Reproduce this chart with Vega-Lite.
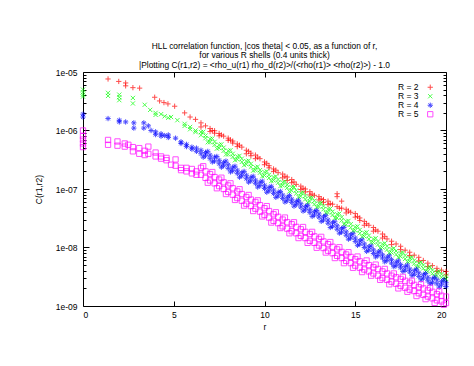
{
"$schema": "https://vega.github.io/schema/vega-lite/v6.json",
"autosize": {"type": "none"},
"padding": {"left": 83, "top": 72, "right": 28, "bottom": 60},
"width": 363, "height": 234,
"background": "white",
"config": {"view": {"stroke": "#000", "strokeWidth": 1}, "font": "Liberation Sans"},
"title": {"text": ["HLL correlation function, |cos theta| < 0.05, as a function of r,", "for various R shells (0.4 units thick)", "|Plotting C(r1,r2) = <rho_u(r1) rho_d(r2)>/(<rho(r1)> <rho(r2)>) - 1.0"], "fontSize": 8.4, "fontWeight": "normal", "font": "Liberation Sans", "lineHeight": 9.5, "offset": 2, "dy": 3, "anchor": "middle", "color": "#000"},
"data": {"values": [
{"r":1.38,"s":2,"c":7.6e-6},{"r":1.97,"s":2,"c":6.9e-6},{"r":2.35,"s":2,"c":6.5e-6},{"r":2.35,"s":2,"c":5.8e-6},{"r":2.75,"s":2,"c":5.4e-6},{"r":3.12,"s":2,"c":5.3e-6},{"r":3.95,"s":2,"c":3.7e-6},{"r":4.22,"s":2,"c":3.2e-6},{"r":4.46,"s":2,"c":3.0e-6},{"r":4.68,"s":2,"c":2.85e-6},{"r":5.05,"s":2,"c":2.6e-6},{"r":5.6,"s":2,"c":2.0e-6},{"r":5.9,"s":2,"c":1.7e-6},{"r":6.2,"s":2,"c":1.55e-6},
{"r":6.5,"s":2,"c":1.35e-6},{"r":6.5,"s":2,"c":1.15e-6},{"r":6.75,"s":2,"c":1.2e-6},{"r":7.0,"s":2,"c":1.08e-6},{"r":7.0,"s":2,"c":9.6e-7},{"r":7.25,"s":2,"c":9.9e-7},{"r":7.25,"s":2,"c":9.0e-7},{"r":7.5,"s":2,"c":8.9e-7},{"r":7.5,"s":2,"c":8.1e-7},{"r":7.75,"s":2,"c":8.0e-7},{"r":8.0,"s":2,"c":7.4e-7},{"r":8.0,"s":2,"c":6.8e-7},{"r":8.25,"s":2,"c":6.6e-7},{"r":8.25,"s":2,"c":6.1e-7},{"r":8.5,"s":2,"c":5.9e-7},{"r":8.5,"s":2,"c":5.3e-7},{"r":8.75,"s":2,"c":5.2e-7},{"r":9.0,"s":2,"c":4.6e-7},{"r":9.0,"s":2,"c":4.0e-7},{"r":9.25,"s":2,"c":4.1e-7},{"r":9.25,"s":2,"c":3.7e-7},{"r":9.5,"s":2,"c":3.8e-7},{"r":9.5,"s":2,"c":3.3e-7},{"r":9.75,"s":2,"c":3.3e-7},{"r":10.0,"s":2,"c":2.9e-7},{"r":10.0,"s":2,"c":2.6e-7},{"r":10.25,"s":2,"c":2.5e-7},{"r":10.25,"s":2,"c":2.3e-7},{"r":10.5,"s":2,"c":2.2e-7},{"r":10.5,"s":2,"c":2.0e-7},{"r":10.75,"s":2,"c":1.9e-7},{"r":11.0,"s":2,"c":1.8e-7},{"r":11.0,"s":2,"c":1.55e-7},{"r":11.25,"s":2,"c":1.6e-7},{"r":11.25,"s":2,"c":1.4e-7},{"r":11.5,"s":2,"c":1.45e-7},{"r":11.5,"s":2,"c":1.28e-7},{"r":11.75,"s":2,"c":1.2e-7},{"r":12.0,"s":2,"c":1.12e-7},{"r":12.0,"s":2,"c":9.8e-8},{"r":12.25,"s":2,"c":1.0e-7},{"r":12.25,"s":2,"c":8.9e-8},{"r":12.5,"s":2,"c":9.0e-8},{"r":12.5,"s":2,"c":7.9e-8},{"r":12.75,"s":2,"c":7.8e-8},{"r":13.0,"s":2,"c":7.4e-8},{"r":13.0,"s":2,"c":6.5e-8},{"r":13.25,"s":2,"c":6.6e-8},{"r":13.25,"s":2,"c":5.9e-8},{"r":13.5,"s":2,"c":6.2e-8},{"r":13.5,"s":2,"c":5.4e-8},{"r":13.75,"s":2,"c":5.5e-8},{"r":14.0,"s":2,"c":8.3e-8},{"r":14.0,"s":2,"c":7.4e-8},{"r":14.0,"s":2,"c":5.0e-8},{"r":14.25,"s":2,"c":4.7e-8},{"r":14.25,"s":2,"c":6.2e-8},{"r":14.5,"s":2,"c":4.5e-8},{"r":14.5,"s":2,"c":3.9e-8},{"r":14.75,"s":2,"c":4.0e-8},{"r":15.0,"s":2,"c":3.8e-8},{"r":15.0,"s":2,"c":3.3e-8},{"r":15.25,"s":2,"c":3.2e-8},{"r":15.25,"s":2,"c":2.9e-8},{"r":15.5,"s":2,"c":2.8e-8},{"r":15.5,"s":2,"c":2.4e-8},{"r":15.75,"s":2,"c":2.4e-8},{"r":16.0,"s":2,"c":2.2e-8},{"r":16.0,"s":2,"c":1.9e-8},{"r":16.25,"s":2,"c":1.9e-8},{"r":16.5,"s":2,"c":1.7e-8},{"r":16.5,"s":2,"c":1.45e-8},{"r":16.75,"s":2,"c":1.4e-8},{"r":17.0,"s":2,"c":1.28e-8},{"r":17.0,"s":2,"c":1.12e-8},{"r":17.25,"s":2,"c":1.15e-8},{"r":17.5,"s":2,"c":1.05e-8},{"r":17.5,"s":2,"c":9.2e-9},{"r":17.75,"s":2,"c":9.0e-9},{"r":18.0,"s":2,"c":8.3e-9},{"r":18.0,"s":2,"c":7.3e-9},{"r":18.25,"s":2,"c":7.4e-9},{"r":18.5,"s":2,"c":6.8e-9},{"r":18.5,"s":2,"c":5.9e-9},{"r":18.75,"s":2,"c":6.0e-9},{"r":19.0,"s":2,"c":5.4e-9},{"r":19.0,"s":2,"c":4.7e-9},{"r":19.25,"s":2,"c":4.9e-9},{"r":19.5,"s":2,"c":4.4e-9},{"r":19.5,"s":2,"c":3.9e-9},{"r":19.75,"s":2,"c":4.1e-9},{"r":20.0,"s":2,"c":3.9e-9},{"r":20.0,"s":2,"c":3.4e-9},
{"r":7.125,"s":2,"c":1.0e-6},{"r":7.625,"s":2,"c":8.4e-7},{"r":8.125,"s":2,"c":6.9e-7},{"r":8.625,"s":2,"c":5.6e-7},{"r":9.125,"s":2,"c":4.4e-7},{"r":9.625,"s":2,"c":3.5e-7},{"r":10.125,"s":2,"c":2.75e-7},{"r":10.625,"s":2,"c":2.1e-7},{"r":11.125,"s":2,"c":1.65e-7},{"r":11.625,"s":2,"c":1.32e-7},{"r":12.125,"s":2,"c":1.03e-7},{"r":12.625,"s":2,"c":8.2e-8},{"r":13.125,"s":2,"c":6.8e-8},{"r":13.625,"s":2,"c":5.6e-8},{"r":14.125,"s":2,"c":4.7e-8},{"r":14.625,"s":2,"c":4.2e-8},{"r":15.125,"s":2,"c":3.4e-8},{"r":15.625,"s":2,"c":2.55e-8},{"r":16.125,"s":2,"c":2.0e-8},{"r":16.625,"s":2,"c":1.55e-8},
{"r":0,"s":3,"c":5.0e-6},{"r":0,"s":3,"c":4.5e-6},{"r":0,"s":3,"c":4.1e-6},{"r":0,"s":3,"c":3.8e-6},{"r":1.38,"s":3,"c":4.4e-6},{"r":1.38,"s":3,"c":3.9e-6},{"r":2.0,"s":3,"c":4.1e-6},{"r":2.0,"s":3,"c":3.7e-6},{"r":2.0,"s":3,"c":3.3e-6},{"r":2.75,"s":3,"c":3.6e-6},{"r":2.75,"s":3,"c":2.9e-6},{"r":3.4,"s":3,"c":2.75e-6},{"r":3.7,"s":3,"c":2.25e-6},{"r":4.0,"s":3,"c":2.0e-6},{"r":4.0,"s":3,"c":1.85e-6},{"r":4.3,"s":3,"c":1.9e-6},{"r":4.5,"s":3,"c":1.75e-6},{"r":4.7,"s":3,"c":1.65e-6},{"r":4.85,"s":3,"c":1.7e-6},{"r":5.2,"s":3,"c":1.5e-6},{"r":5.6,"s":3,"c":1.3e-6},{"r":5.6,"s":3,"c":1.2e-6},{"r":5.9,"s":3,"c":1.15e-6},{"r":5.9,"s":3,"c":1.05e-6},{"r":6.2,"s":3,"c":1.0e-6},{"r":6.2,"s":3,"c":9.4e-7},
{"r":6.5,"s":3,"c":9.4e-7},{"r":6.5,"s":3,"c":8.3e-7},{"r":6.75,"s":3,"c":8.2e-7},{"r":6.75,"s":3,"c":7.4e-7},{"r":7.0,"s":3,"c":7.2e-7},{"r":7.0,"s":3,"c":6.3e-7},{"r":7.25,"s":3,"c":6.4e-7},{"r":7.25,"s":3,"c":5.7e-7},{"r":7.5,"s":3,"c":5.7e-7},{"r":7.5,"s":3,"c":5.0e-7},{"r":7.75,"s":3,"c":5.1e-7},{"r":7.75,"s":3,"c":4.5e-7},{"r":8.0,"s":3,"c":4.5e-7},{"r":8.0,"s":3,"c":3.9e-7},{"r":8.25,"s":3,"c":4.0e-7},{"r":8.25,"s":3,"c":3.55e-7},{"r":8.5,"s":3,"c":3.6e-7},{"r":8.5,"s":3,"c":3.2e-7},{"r":8.75,"s":3,"c":3.3e-7},{"r":8.75,"s":3,"c":2.9e-7},{"r":9.0,"s":3,"c":3.0e-7},{"r":9.0,"s":3,"c":2.65e-7},{"r":9.25,"s":3,"c":2.7e-7},{"r":9.25,"s":3,"c":2.4e-7},{"r":9.5,"s":3,"c":2.35e-7},{"r":9.5,"s":3,"c":2.1e-7},{"r":9.75,"s":3,"c":2.1e-7},{"r":9.75,"s":3,"c":1.9e-7},{"r":10.0,"s":3,"c":1.95e-7},{"r":10.0,"s":3,"c":1.7e-7},{"r":10.25,"s":3,"c":1.75e-7},{"r":10.25,"s":3,"c":1.55e-7},{"r":10.5,"s":3,"c":1.6e-7},{"r":10.5,"s":3,"c":1.4e-7},{"r":10.75,"s":3,"c":1.45e-7},{"r":10.75,"s":3,"c":1.28e-7},{"r":11.0,"s":3,"c":1.3e-7},{"r":11.0,"s":3,"c":1.15e-7},{"r":11.25,"s":3,"c":1.18e-7},{"r":11.25,"s":3,"c":1.05e-7},{"r":11.5,"s":3,"c":1.07e-7},{"r":11.5,"s":3,"c":9.4e-8},{"r":11.75,"s":3,"c":9.5e-8},{"r":11.75,"s":3,"c":8.4e-8},{"r":12.0,"s":3,"c":8.5e-8},{"r":12.0,"s":3,"c":7.5e-8},{"r":12.25,"s":3,"c":7.6e-8},{"r":12.25,"s":3,"c":6.7e-8},{"r":12.5,"s":3,"c":7.0e-8},{"r":12.5,"s":3,"c":6.1e-8},{"r":12.75,"s":3,"c":6.3e-8},{"r":12.75,"s":3,"c":5.5e-8},{"r":13.0,"s":3,"c":5.7e-8},{"r":13.0,"s":3,"c":5.0e-8},{"r":13.25,"s":3,"c":5.1e-8},{"r":13.25,"s":3,"c":4.5e-8},{"r":13.5,"s":3,"c":4.5e-8},{"r":13.5,"s":3,"c":3.95e-8},{"r":13.75,"s":3,"c":4.1e-8},{"r":13.75,"s":3,"c":3.6e-8},{"r":14.0,"s":3,"c":3.7e-8},{"r":14.0,"s":3,"c":3.2e-8},{"r":14.25,"s":3,"c":3.3e-8},{"r":14.25,"s":3,"c":2.9e-8},{"r":14.5,"s":3,"c":2.8e-8},{"r":14.5,"s":3,"c":2.45e-8},{"r":14.75,"s":3,"c":2.5e-8},{"r":14.75,"s":3,"c":2.2e-8},{"r":15.0,"s":3,"c":2.25e-8},{"r":15.0,"s":3,"c":1.95e-8},{"r":15.25,"s":3,"c":2.0e-8},{"r":15.25,"s":3,"c":1.75e-8},{"r":15.5,"s":3,"c":1.78e-8},{"r":15.5,"s":3,"c":1.55e-8},{"r":15.75,"s":3,"c":1.6e-8},{"r":15.75,"s":3,"c":1.4e-8},{"r":16.0,"s":3,"c":1.4e-8},{"r":16.0,"s":3,"c":1.22e-8},{"r":16.25,"s":3,"c":1.27e-8},{"r":16.25,"s":3,"c":1.12e-8},{"r":16.5,"s":3,"c":1.15e-8},{"r":16.5,"s":3,"c":1.0e-8},{"r":16.75,"s":3,"c":1.05e-8},{"r":16.75,"s":3,"c":9.2e-9},{"r":17.0,"s":3,"c":9.4e-9},{"r":17.0,"s":3,"c":8.2e-9},{"r":17.25,"s":3,"c":8.7e-9},{"r":17.25,"s":3,"c":7.6e-9},{"r":17.5,"s":3,"c":8.0e-9},{"r":17.5,"s":3,"c":7.0e-9},{"r":17.75,"s":3,"c":7.3e-9},{"r":17.75,"s":3,"c":6.4e-9},{"r":18.0,"s":3,"c":6.6e-9},{"r":18.0,"s":3,"c":5.8e-9},{"r":18.25,"s":3,"c":6.0e-9},{"r":18.25,"s":3,"c":5.3e-9},{"r":18.5,"s":3,"c":5.4e-9},{"r":18.5,"s":3,"c":4.7e-9},{"r":18.75,"s":3,"c":5.0e-9},{"r":18.75,"s":3,"c":4.4e-9},{"r":19.0,"s":3,"c":4.5e-9},{"r":19.0,"s":3,"c":3.9e-9},{"r":19.25,"s":3,"c":4.1e-9},{"r":19.25,"s":3,"c":3.6e-9},{"r":19.5,"s":3,"c":3.8e-9},{"r":19.5,"s":3,"c":3.3e-9},{"r":19.75,"s":3,"c":3.5e-9},{"r":19.75,"s":3,"c":3.1e-9},{"r":20.0,"s":3,"c":3.3e-9},{"r":20.0,"s":3,"c":2.9e-9},
{"r":6.625,"s":3,"c":9.5e-7},{"r":6.875,"s":3,"c":6.3e-7},{"r":7.125,"s":3,"c":7.3e-7},{"r":7.375,"s":3,"c":4.9e-7},{"r":7.625,"s":3,"c":5.8e-7},{"r":7.875,"s":3,"c":3.9e-7},{"r":8.125,"s":3,"c":4.6e-7},{"r":8.375,"s":3,"c":3.1e-7},{"r":8.625,"s":3,"c":3.7e-7},{"r":8.875,"s":3,"c":2.55e-7},{"r":9.125,"s":3,"c":3.05e-7},{"r":9.375,"s":3,"c":2.06e-7},{"r":9.625,"s":3,"c":2.4e-7},{"r":9.875,"s":3,"c":1.65e-7},{"r":10.125,"s":3,"c":2.0e-7},{"r":10.375,"s":3,"c":1.37e-7},{"r":10.625,"s":3,"c":1.64e-7},{"r":10.875,"s":3,"c":1.12e-7},{"r":11.125,"s":3,"c":1.34e-7},{"r":11.375,"s":3,"c":9.1e-8},{"r":11.625,"s":3,"c":1.08e-7},{"r":11.875,"s":3,"c":7.3e-8},{"r":12.125,"s":3,"c":8.7e-8},{"r":12.375,"s":3,"c":5.9e-8},{"r":12.625,"s":3,"c":7.1e-8},{"r":12.875,"s":3,"c":4.9e-8},{"r":13.125,"s":3,"c":5.8e-8},{"r":13.375,"s":3,"c":3.9e-8},{"r":13.625,"s":3,"c":4.6e-8},{"r":13.875,"s":3,"c":3.2e-8},{"r":14.125,"s":3,"c":3.8e-8},{"r":14.375,"s":3,"c":2.5e-8},{"r":14.625,"s":3,"c":2.85e-8},{"r":14.875,"s":3,"c":1.93e-8},{"r":15.125,"s":3,"c":2.3e-8},{"r":15.375,"s":3,"c":1.53e-8},{"r":15.625,"s":3,"c":1.82e-8},{"r":15.875,"s":3,"c":1.22e-8},{"r":16.125,"s":3,"c":1.44e-8},{"r":16.375,"s":3,"c":9.8e-9},{"r":16.625,"s":3,"c":1.18e-8},{"r":16.875,"s":3,"c":8.1e-9},{"r":17.125,"s":3,"c":9.7e-9},{"r":17.375,"s":3,"c":6.8e-9},{"r":17.625,"s":3,"c":8.2e-9},{"r":17.875,"s":3,"c":5.7e-9},{"r":18.125,"s":3,"c":6.8e-9},{"r":18.375,"s":3,"c":4.6e-9},{"r":18.625,"s":3,"c":5.6e-9},{"r":18.875,"s":3,"c":3.9e-9},{"r":19.125,"s":3,"c":4.6e-9},{"r":19.375,"s":3,"c":3.2e-9},{"r":19.625,"s":3,"c":3.9e-9},{"r":19.875,"s":3,"c":2.8e-9},
{"r":0,"s":4,"c":1.9e-6},{"r":0,"s":4,"c":1.7e-6},{"r":1.38,"s":4,"c":1.6e-6},{"r":2.0,"s":4,"c":1.5e-6},{"r":2.0,"s":4,"c":1.4e-6},{"r":2.35,"s":4,"c":1.4e-6},{"r":2.8,"s":4,"c":1.35e-6},{"r":2.8,"s":4,"c":1.1e-6},{"r":3.35,"s":4,"c":1.35e-6},{"r":3.35,"s":4,"c":1.1e-6},{"r":3.6,"s":4,"c":1.2e-6},{"r":3.75,"s":4,"c":1.0e-6},{"r":4.0,"s":4,"c":9.5e-7},{"r":4.0,"s":4,"c":8.5e-7},{"r":4.3,"s":4,"c":8.8e-7},{"r":4.3,"s":4,"c":8.0e-7},{"r":4.5,"s":4,"c":8.2e-7},{"r":4.7,"s":4,"c":7.6e-7},{"r":4.7,"s":4,"c":8.4e-7},{"r":5.1,"s":4,"c":7.4e-7},{"r":5.4,"s":4,"c":6.4e-7},{"r":5.4,"s":4,"c":6.0e-7},{"r":5.7,"s":4,"c":5.8e-7},{"r":5.7,"s":4,"c":5.3e-7},{"r":6.0,"s":4,"c":5.2e-7},{"r":6.0,"s":4,"c":4.8e-7},{"r":6.25,"s":4,"c":5.0e-7},{"r":6.25,"s":4,"c":4.4e-7},
{"r":6.5,"s":4,"c":4.6e-7},{"r":6.5,"s":4,"c":4.0e-7},{"r":6.75,"s":4,"c":4.2e-7},{"r":6.75,"s":4,"c":3.7e-7},{"r":7.0,"s":4,"c":3.8e-7},{"r":7.0,"s":4,"c":3.3e-7},{"r":7.25,"s":4,"c":3.5e-7},{"r":7.25,"s":4,"c":3.0e-7},{"r":7.5,"s":4,"c":3.1e-7},{"r":7.5,"s":4,"c":2.7e-7},{"r":7.75,"s":4,"c":2.85e-7},{"r":7.75,"s":4,"c":2.5e-7},{"r":8.0,"s":4,"c":2.6e-7},{"r":8.0,"s":4,"c":2.25e-7},{"r":8.25,"s":4,"c":2.35e-7},{"r":8.25,"s":4,"c":2.05e-7},{"r":8.5,"s":4,"c":2.1e-7},{"r":8.5,"s":4,"c":1.85e-7},{"r":8.75,"s":4,"c":1.9e-7},{"r":8.75,"s":4,"c":1.68e-7},{"r":9.0,"s":4,"c":1.72e-7},{"r":9.0,"s":4,"c":1.5e-7},{"r":9.25,"s":4,"c":1.58e-7},{"r":9.25,"s":4,"c":1.38e-7},{"r":9.5,"s":4,"c":1.42e-7},{"r":9.5,"s":4,"c":1.25e-7},{"r":9.75,"s":4,"c":1.3e-7},{"r":9.75,"s":4,"c":1.14e-7},{"r":10.0,"s":4,"c":1.16e-7},{"r":10.0,"s":4,"c":1.02e-7},{"r":10.25,"s":4,"c":1.06e-7},{"r":10.25,"s":4,"c":9.3e-8},{"r":10.5,"s":4,"c":9.6e-8},{"r":10.5,"s":4,"c":8.4e-8},{"r":10.75,"s":4,"c":8.7e-8},{"r":10.75,"s":4,"c":7.6e-8},{"r":11.0,"s":4,"c":7.9e-8},{"r":11.0,"s":4,"c":6.9e-8},{"r":11.25,"s":4,"c":7.2e-8},{"r":11.25,"s":4,"c":6.3e-8},{"r":11.5,"s":4,"c":6.7e-8},{"r":11.5,"s":4,"c":5.9e-8},{"r":11.75,"s":4,"c":6.1e-8},{"r":11.75,"s":4,"c":5.4e-8},{"r":12.0,"s":4,"c":5.6e-8},{"r":12.0,"s":4,"c":4.9e-8},{"r":12.25,"s":4,"c":5.0e-8},{"r":12.25,"s":4,"c":4.4e-8},{"r":12.5,"s":4,"c":4.5e-8},{"r":12.5,"s":4,"c":3.95e-8},{"r":12.75,"s":4,"c":4.1e-8},{"r":12.75,"s":4,"c":3.6e-8},{"r":13.0,"s":4,"c":3.75e-8},{"r":13.0,"s":4,"c":3.3e-8},{"r":13.25,"s":4,"c":3.35e-8},{"r":13.25,"s":4,"c":2.95e-8},{"r":13.5,"s":4,"c":2.95e-8},{"r":13.5,"s":4,"c":2.6e-8},{"r":13.75,"s":4,"c":2.65e-8},{"r":13.75,"s":4,"c":2.3e-8},{"r":14.0,"s":4,"c":2.35e-8},{"r":14.0,"s":4,"c":2.05e-8},{"r":14.25,"s":4,"c":2.1e-8},{"r":14.25,"s":4,"c":1.83e-8},{"r":14.5,"s":4,"c":1.85e-8},{"r":14.5,"s":4,"c":1.62e-8},{"r":14.75,"s":4,"c":1.65e-8},{"r":14.75,"s":4,"c":1.45e-8},{"r":15.0,"s":4,"c":1.45e-8},{"r":15.0,"s":4,"c":1.27e-8},{"r":15.25,"s":4,"c":1.3e-8},{"r":15.25,"s":4,"c":1.14e-8},{"r":15.5,"s":4,"c":1.15e-8},{"r":15.5,"s":4,"c":1.0e-8},{"r":15.75,"s":4,"c":1.03e-8},{"r":15.75,"s":4,"c":9.0e-9},{"r":16.0,"s":4,"c":9.1e-9},{"r":16.0,"s":4,"c":7.9e-9},{"r":16.25,"s":4,"c":8.3e-9},{"r":16.25,"s":4,"c":7.3e-9},{"r":16.5,"s":4,"c":7.5e-9},{"r":16.5,"s":4,"c":6.6e-9},{"r":16.75,"s":4,"c":6.8e-9},{"r":16.75,"s":4,"c":6.0e-9},{"r":17.0,"s":4,"c":6.2e-9},{"r":17.0,"s":4,"c":5.4e-9},{"r":17.25,"s":4,"c":5.6e-9},{"r":17.25,"s":4,"c":4.9e-9},{"r":17.5,"s":4,"c":5.1e-9},{"r":17.5,"s":4,"c":4.5e-9},{"r":17.75,"s":4,"c":4.7e-9},{"r":17.75,"s":4,"c":4.1e-9},{"r":18.0,"s":4,"c":4.3e-9},{"r":18.0,"s":4,"c":3.8e-9},{"r":18.25,"s":4,"c":4.0e-9},{"r":18.25,"s":4,"c":3.5e-9},{"r":18.5,"s":4,"c":3.7e-9},{"r":18.5,"s":4,"c":3.2e-9},{"r":18.75,"s":4,"c":3.4e-9},{"r":18.75,"s":4,"c":3.0e-9},{"r":19.0,"s":4,"c":3.1e-9},{"r":19.0,"s":4,"c":2.7e-9},{"r":19.25,"s":4,"c":2.9e-9},{"r":19.25,"s":4,"c":2.5e-9},{"r":19.5,"s":4,"c":2.8e-9},{"r":19.5,"s":4,"c":2.4e-9},{"r":19.75,"s":4,"c":2.6e-9},{"r":19.75,"s":4,"c":2.3e-9},{"r":20.0,"s":4,"c":2.5e-9},{"r":20.0,"s":4,"c":2.15e-9},
{"r":6.625,"s":4,"c":3.5e-7},{"r":6.875,"s":4,"c":4.4e-7},{"r":7.125,"s":4,"c":2.9e-7},{"r":7.375,"s":4,"c":3.6e-7},{"r":7.625,"s":4,"c":2.36e-7},{"r":7.875,"s":4,"c":3.0e-7},{"r":8.125,"s":4,"c":1.96e-7},{"r":8.375,"s":4,"c":2.45e-7},{"r":8.625,"s":4,"c":1.59e-7},{"r":8.875,"s":4,"c":2.0e-7},{"r":9.125,"s":4,"c":1.31e-7},{"r":9.375,"s":4,"c":1.65e-7},{"r":9.625,"s":4,"c":1.08e-7},{"r":9.875,"s":4,"c":1.36e-7},{"r":10.125,"s":4,"c":8.8e-8},{"r":10.375,"s":4,"c":1.11e-7},{"r":10.625,"s":4,"c":7.2e-8},{"r":10.875,"s":4,"c":9.1e-8},{"r":11.125,"s":4,"c":6.0e-8},{"r":11.375,"s":4,"c":7.7e-8},{"r":11.625,"s":4,"c":5.1e-8},{"r":11.875,"s":4,"c":6.4e-8},{"r":12.125,"s":4,"c":4.2e-8},{"r":12.375,"s":4,"c":5.25e-8},{"r":12.625,"s":4,"c":3.4e-8},{"r":12.875,"s":4,"c":4.3e-8},{"r":13.125,"s":4,"c":2.8e-8},{"r":13.375,"s":4,"c":3.5e-8},{"r":13.625,"s":4,"c":2.2e-8},{"r":13.875,"s":4,"c":2.75e-8},{"r":14.125,"s":4,"c":1.76e-8},{"r":14.375,"s":4,"c":2.2e-8},{"r":14.625,"s":4,"c":1.39e-8},{"r":14.875,"s":4,"c":1.72e-8},{"r":15.125,"s":4,"c":1.09e-8},{"r":15.375,"s":4,"c":1.35e-8},{"r":15.625,"s":4,"c":8.6e-9},{"r":15.875,"s":4,"c":1.06e-8},{"r":16.125,"s":4,"c":6.9e-9},{"r":16.375,"s":4,"c":8.7e-9},{"r":16.625,"s":4,"c":5.7e-9},{"r":16.875,"s":4,"c":7.2e-9},{"r":17.125,"s":4,"c":4.7e-9},{"r":17.375,"s":4,"c":5.9e-9},{"r":17.625,"s":4,"c":3.9e-9},{"r":17.875,"s":4,"c":5.0e-9},{"r":18.125,"s":4,"c":3.3e-9},{"r":18.375,"s":4,"c":4.25e-9},{"r":18.625,"s":4,"c":2.8e-9},{"r":18.875,"s":4,"c":3.6e-9},{"r":19.125,"s":4,"c":2.4e-9},{"r":19.375,"s":4,"c":3.1e-9},{"r":19.625,"s":4,"c":2.1e-9},{"r":19.875,"s":4,"c":2.8e-9},
{"r":0,"s":5,"c":1.0e-6},{"r":0,"s":5,"c":8.0e-7},{"r":0,"s":5,"c":7.0e-7},{"r":0,"s":5,"c":6.0e-7},{"r":0,"s":5,"c":5.2e-7},{"r":1.38,"s":5,"c":6.9e-7},{"r":1.38,"s":5,"c":5.7e-7},{"r":1.9,"s":5,"c":6.5e-7},{"r":1.9,"s":5,"c":5.5e-7},{"r":2.3,"s":5,"c":6.0e-7},{"r":2.3,"s":5,"c":5.3e-7},{"r":2.5,"s":5,"c":5.7e-7},{"r":2.75,"s":5,"c":5.2e-7},{"r":2.75,"s":5,"c":4.4e-7},{"r":3.1,"s":5,"c":5.0e-7},{"r":3.1,"s":5,"c":4.0e-7},{"r":3.4,"s":5,"c":4.5e-7},{"r":3.4,"s":5,"c":3.8e-7},{"r":3.6,"s":5,"c":5.3e-7},{"r":3.6,"s":5,"c":4.0e-7},{"r":4.0,"s":5,"c":4.2e-7},{"r":4.0,"s":5,"c":3.6e-7},{"r":4.3,"s":5,"c":3.6e-7},{"r":4.3,"s":5,"c":3.3e-7},{"r":4.6,"s":5,"c":3.4e-7},{"r":4.6,"s":5,"c":3.1e-7},{"r":4.85,"s":5,"c":2.6e-7},{"r":5.1,"s":5,"c":3.2e-7},{"r":5.1,"s":5,"c":2.5e-7},{"r":5.4,"s":5,"c":2.3e-7},{"r":5.4,"s":5,"c":2.1e-7},{"r":5.7,"s":5,"c":2.3e-7},{"r":5.7,"s":5,"c":2.0e-7},{"r":6.0,"s":5,"c":2.2e-7},{"r":6.0,"s":5,"c":1.85e-7},{"r":6.25,"s":5,"c":2.0e-7},{"r":6.25,"s":5,"c":1.75e-7},
{"r":6.5,"s":5,"c":2.3e-7},{"r":6.5,"s":5,"c":1.75e-7},{"r":6.75,"s":5,"c":2.0e-7},{"r":6.75,"s":5,"c":1.55e-7},{"r":7.0,"s":5,"c":1.8e-7},{"r":7.0,"s":5,"c":1.4e-7},{"r":7.25,"s":5,"c":1.6e-7},{"r":7.25,"s":5,"c":1.25e-7},{"r":7.5,"s":5,"c":1.45e-7},{"r":7.5,"s":5,"c":1.12e-7},{"r":7.75,"s":5,"c":1.3e-7},{"r":7.75,"s":5,"c":1.0e-7},{"r":8.0,"s":5,"c":1.15e-7},{"r":8.0,"s":5,"c":8.9e-8},{"r":8.25,"s":5,"c":1.03e-7},{"r":8.25,"s":5,"c":8.0e-8},{"r":8.5,"s":5,"c":9.1e-8},{"r":8.5,"s":5,"c":7.0e-8},{"r":8.75,"s":5,"c":8.2e-8},{"r":8.75,"s":5,"c":6.3e-8},{"r":9.0,"s":5,"c":7.3e-8},{"r":9.0,"s":5,"c":5.6e-8},{"r":9.25,"s":5,"c":6.6e-8},{"r":9.25,"s":5,"c":5.1e-8},{"r":9.5,"s":5,"c":6.0e-8},{"r":9.5,"s":5,"c":4.6e-8},{"r":9.75,"s":5,"c":5.3e-8},{"r":9.75,"s":5,"c":4.1e-8},{"r":10.0,"s":5,"c":4.7e-8},{"r":10.0,"s":5,"c":3.6e-8},{"r":10.25,"s":5,"c":4.2e-8},{"r":10.25,"s":5,"c":3.25e-8},{"r":10.5,"s":5,"c":3.7e-8},{"r":10.5,"s":5,"c":2.85e-8},{"r":10.75,"s":5,"c":3.35e-8},{"r":10.75,"s":5,"c":2.6e-8},{"r":11.0,"s":5,"c":3.0e-8},{"r":11.0,"s":5,"c":2.3e-8},{"r":11.25,"s":5,"c":2.7e-8},{"r":11.25,"s":5,"c":2.1e-8},{"r":11.5,"s":5,"c":2.5e-8},{"r":11.5,"s":5,"c":1.9e-8},{"r":11.75,"s":5,"c":2.25e-8},{"r":11.75,"s":5,"c":1.75e-8},{"r":12.0,"s":5,"c":2.05e-8},{"r":12.0,"s":5,"c":1.58e-8},{"r":12.25,"s":5,"c":1.85e-8},{"r":12.25,"s":5,"c":1.45e-8},{"r":12.5,"s":5,"c":1.7e-8},{"r":12.5,"s":5,"c":1.3e-8},{"r":12.75,"s":5,"c":1.55e-8},{"r":12.75,"s":5,"c":1.2e-8},{"r":13.0,"s":5,"c":1.4e-8},{"r":13.0,"s":5,"c":1.08e-8},{"r":13.25,"s":5,"c":1.27e-8},{"r":13.25,"s":5,"c":9.8e-9},{"r":13.5,"s":5,"c":1.14e-8},{"r":13.5,"s":5,"c":8.8e-9},{"r":13.75,"s":5,"c":1.03e-8},{"r":13.75,"s":5,"c":8.0e-9},{"r":14.0,"s":5,"c":9.3e-9},{"r":14.0,"s":5,"c":7.2e-9},{"r":14.25,"s":5,"c":8.4e-9},{"r":14.25,"s":5,"c":6.6e-9},{"r":14.5,"s":5,"c":7.6e-9},{"r":14.5,"s":5,"c":5.9e-9},{"r":14.75,"s":5,"c":6.9e-9},{"r":14.75,"s":5,"c":5.4e-9},{"r":15.0,"s":5,"c":6.3e-9},{"r":15.0,"s":5,"c":4.9e-9},{"r":15.25,"s":5,"c":5.8e-9},{"r":15.25,"s":5,"c":4.5e-9},{"r":15.5,"s":5,"c":5.4e-9},{"r":15.5,"s":5,"c":4.2e-9},{"r":15.75,"s":5,"c":5.0e-9},{"r":15.75,"s":5,"c":3.9e-9},{"r":16.0,"s":5,"c":4.6e-9},{"r":16.0,"s":5,"c":3.6e-9},{"r":16.25,"s":5,"c":4.3e-9},{"r":16.25,"s":5,"c":3.3e-9},{"r":16.5,"s":5,"c":3.9e-9},{"r":16.5,"s":5,"c":3.0e-9},{"r":16.75,"s":5,"c":3.6e-9},{"r":16.75,"s":5,"c":2.8e-9},{"r":17.0,"s":5,"c":3.3e-9},{"r":17.0,"s":5,"c":2.6e-9},{"r":17.25,"s":5,"c":3.1e-9},{"r":17.25,"s":5,"c":2.4e-9},{"r":17.5,"s":5,"c":2.9e-9},{"r":17.5,"s":5,"c":2.2e-9},{"r":17.75,"s":5,"c":2.7e-9},{"r":17.75,"s":5,"c":2.05e-9},{"r":18.0,"s":5,"c":2.5e-9},{"r":18.0,"s":5,"c":1.9e-9},{"r":18.25,"s":5,"c":2.3e-9},{"r":18.25,"s":5,"c":1.8e-9},{"r":18.5,"s":5,"c":2.1e-9},{"r":18.5,"s":5,"c":1.65e-9},{"r":18.75,"s":5,"c":2.0e-9},{"r":18.75,"s":5,"c":1.55e-9},{"r":19.0,"s":5,"c":1.85e-9},{"r":19.0,"s":5,"c":1.45e-9},{"r":19.25,"s":5,"c":1.75e-9},{"r":19.25,"s":5,"c":1.35e-9},{"r":19.5,"s":5,"c":1.6e-9},{"r":19.5,"s":5,"c":1.25e-9},{"r":19.75,"s":5,"c":1.5e-9},{"r":19.75,"s":5,"c":1.2e-9},{"r":20.0,"s":5,"c":1.45e-9},{"r":20.0,"s":5,"c":1.12e-9},
{"r":6.625,"s":5,"c":2.45e-7},{"r":6.875,"s":5,"c":1.28e-7},{"r":7.125,"s":5,"c":1.95e-7},{"r":7.375,"s":5,"c":1.03e-7},{"r":7.625,"s":5,"c":1.56e-7},{"r":7.875,"s":5,"c":8.2e-8},{"r":8.125,"s":5,"c":1.25e-7},{"r":8.375,"s":5,"c":6.5e-8},{"r":8.625,"s":5,"c":9.9e-8},{"r":8.875,"s":5,"c":5.2e-8},{"r":9.125,"s":5,"c":7.9e-8},{"r":9.375,"s":5,"c":4.2e-8},{"r":9.625,"s":5,"c":6.4e-8},{"r":9.875,"s":5,"c":3.4e-8},{"r":10.125,"s":5,"c":5.1e-8},{"r":10.375,"s":5,"c":2.67e-8},{"r":10.625,"s":5,"c":4.0e-8},{"r":10.875,"s":5,"c":2.15e-8},{"r":11.125,"s":5,"c":3.25e-8},{"r":11.375,"s":5,"c":1.75e-8},{"r":11.625,"s":5,"c":2.7e-8},{"r":11.875,"s":5,"c":1.45e-8},{"r":12.125,"s":5,"c":2.24e-8},{"r":12.375,"s":5,"c":1.2e-8},{"r":12.625,"s":5,"c":1.85e-8},{"r":12.875,"s":5,"c":9.9e-9},{"r":13.125,"s":5,"c":1.52e-8},{"r":13.375,"s":5,"c":8.2e-9},{"r":13.625,"s":5,"c":1.24e-8},{"r":13.875,"s":5,"c":6.6e-9},{"r":14.125,"s":5,"c":1.01e-8},{"r":14.375,"s":5,"c":5.4e-9},{"r":14.625,"s":5,"c":8.3e-9},{"r":14.875,"s":5,"c":4.5e-9},{"r":15.125,"s":5,"c":7.0e-9},{"r":15.375,"s":5,"c":3.8e-9},{"r":15.625,"s":5,"c":6.0e-9},{"r":15.875,"s":5,"c":3.3e-9},{"r":16.125,"s":5,"c":5.1e-9},{"r":16.375,"s":5,"c":2.8e-9},{"r":16.625,"s":5,"c":4.3e-9},{"r":16.875,"s":5,"c":2.35e-9},{"r":17.125,"s":5,"c":3.6e-9},{"r":17.375,"s":5,"c":2.0e-9},{"r":17.625,"s":5,"c":3.15e-9},{"r":17.875,"s":5,"c":1.75e-9},{"r":18.125,"s":5,"c":2.7e-9},{"r":18.375,"s":5,"c":1.48e-9},{"r":18.625,"s":5,"c":2.35e-9},{"r":18.875,"s":5,"c":1.31e-9},{"r":19.125,"s":5,"c":2.05e-9},{"r":19.375,"s":5,"c":1.13e-9},{"r":19.625,"s":5,"c":1.78e-9},{"r":19.875,"s":5,"c":1.05e-9}
]},
"layer": [
{"mark": {"type": "point", "filled": false, "strokeWidth": 1, "size": 28},
 "encoding": {
  "x": {"field": "r", "type": "quantitative", "scale": {"domain": [0, 20], "nice": false, "zero": false},
        "axis": {"values": [0, 5, 10, 15, 20], "domain": false, "grid": false, "ticks": false, "labelFontSize": 8.5, "labelColor": "#000", "labelPadding": 4, "titleFontSize": 8.5, "titleFontWeight": "normal", "titleColor": "#000", "titlePadding": 4}, "title": "r"},
  "y": {"field": "c", "type": "quantitative", "scale": {"type": "log", "domain": [1e-9, 1e-5], "nice": false},
        "axis": {"values": [1e-9, 1e-8, 1e-7, 1e-6, 1e-5],
          "labelExpr": "replace(format(datum.value, '.0e'), '-', '-0')",
          "domain": false, "grid": false, "ticks": false, "labelFontSize": 8.5, "labelColor": "#000", "labelPadding": 6, "titleFontSize": 8.5, "titleFontWeight": "normal", "titleColor": "#000", "titlePadding": 12}, "title": "C(r1,r2)"},
  "color": {"field": "s", "type": "nominal", "scale": {"domain": [2, 3, 4, 5], "range": ["#ff0000", "#00ff00", "#0000ff", "#ff00ff"]},
            "legend": {"title": null, "orient": "top-right", "offset": 11, "labelExpr": "'R = ' + datum.label", "labelFontSize": 8.5, "labelColor": "#000", "labelAlign": "right", "labelOffset": -16, "rowPadding": -5, "symbolStrokeWidth": 1, "symbolSize": 28}},
  "shape": {"field": "s", "type": "nominal", "scale": {"domain": [2, 3, 4, 5], "range": ["M-1,0L1,0M0,-1L0,1", "M-0.8,-0.8L0.8,0.8M-0.8,0.8L0.8,-0.8", "M-1,0L1,0M0,-1L0,1M-0.7,-0.7L0.7,0.7M-0.7,0.7L0.7,-0.7", "square"]}, "legend": null}
 }},
{"mark": {"type": "point", "opacity": 0},
 "encoding": {
  "x": {"field": "r", "type": "quantitative", "axis": {"orient": "bottom", "offset": -5, "values": [5.000001, 10.000001, 15.000001], "labels": false, "domain": false, "grid": false, "tickSize": 5, "tickColor": "#000", "tickWidth": 1, "title": null}},
  "y": {"field": "c", "type": "quantitative", "axis": {"orient": "left", "offset": -6, "values": [1.0000001e-9,2.0000001e-9,3.0000001e-9,4.0000001e-9,5.0000001e-9,6.0000001e-9,7.0000001e-9,8.0000001e-9,9.0000001e-9,1.0000001e-8,2.0000001e-8,3.0000001e-8,4.0000001e-8,5.0000001e-8,6.0000001e-8,7.0000001e-8,8.0000001e-8,9.0000001e-8,1.0000001e-7,2.0000001e-7,3.0000001e-7,4.0000001e-7,5.0000001e-7,6.0000001e-7,7.0000001e-7,8.0000001e-7,9.0000001e-7,1.0000001e-6,2.0000001e-6,3.0000001e-6,4.0000001e-6,5.0000001e-6,6.0000001e-6,7.0000001e-6,8.0000001e-6,9.0000001e-6,9.999999e-6], "labels": false, "domain": false, "grid": false, "tickSize": 6, "tickColor": "#000", "tickWidth": 1, "title": null,
    "tickDash": {"condition": {"test": "abs(log(datum.value)/LN10 - round(log(datum.value)/LN10)) > 0.001", "value": [0, 3, 3, 0]}, "value": [6, 0]}}}
 }},
{"mark": {"type": "point", "opacity": 0},
 "encoding": {
  "x": {"field": "r", "type": "quantitative", "axis": {"orient": "top", "offset": -5, "values": [5.000002, 10.000002, 15.000002], "labels": false, "domain": false, "grid": false, "tickSize": 5, "tickColor": "#000", "tickWidth": 1, "title": null}},
  "y": {"field": "c", "type": "quantitative", "axis": {"orient": "right", "offset": -6, "values": [1.0000002e-9,2.0000002e-9,3.0000002e-9,4.0000002e-9,5.0000002e-9,6.0000002e-9,7.0000002e-9,8.0000002e-9,9.0000002e-9,1.0000002e-8,2.0000002e-8,3.0000002e-8,4.0000002e-8,5.0000002e-8,6.0000002e-8,7.0000002e-8,8.0000002e-8,9.0000002e-8,1.0000002e-7,2.0000002e-7,3.0000002e-7,4.0000002e-7,5.0000002e-7,6.0000002e-7,7.0000002e-7,8.0000002e-7,9.0000002e-7,1.0000002e-6,2.0000002e-6,3.0000002e-6,4.0000002e-6,5.0000002e-6,6.0000002e-6,7.0000002e-6,8.0000002e-6,9.0000002e-6,9.999998e-6], "labels": false, "domain": false, "grid": false, "tickSize": 6, "tickColor": "#000", "tickWidth": 1, "title": null,
    "tickDash": {"condition": {"test": "abs(log(datum.value)/LN10 - round(log(datum.value)/LN10)) > 0.001", "value": [0, 3, 3, 0]}, "value": [6, 0]}}}
 }}
],
"resolve": {"axis": {"x": "independent", "y": "independent"}}
}
